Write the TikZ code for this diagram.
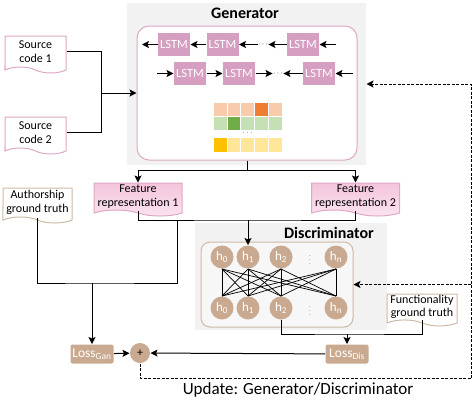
\documentclass[tikz,border=0pt]{standalone}
\usepackage{fontspec}
\setmainfont{Carlito}
\usepackage{tikz}
\usetikzlibrary{shapes}
\usetikzlibrary{arrows}
\usetikzlibrary{arrows.meta}
\definecolor{panelgray}{RGB}{242,242,242}
\definecolor{pinkline}{RGB}{222,168,198}
\definecolor{lstmpink}{RGB}{214,158,192}
\definecolor{frtop}{RGB}{244,196,220}
\definecolor{frbot}{RGB}{251,228,240}
\definecolor{tanfill}{RGB}{201,170,145}
\definecolor{tanline}{RGB}{205,186,166}
\definecolor{orlight}{RGB}{248,203,173}
\definecolor{ordark}{RGB}{237,125,49}
\definecolor{grlight}{RGB}{197,224,180}
\definecolor{grdark}{RGB}{112,173,71}
\definecolor{yelight}{RGB}{255,230,153}
\definecolor{yedark}{RGB}{255,192,0}
\newcommand\txtsize{\fontsize{12}{13.5}\selectfont}
\tikzset{
  panel node/.style={rectangle,fill=panelgray,inner sep=0pt},
  title node/.style={font=\fontsize{16}{18}\selectfont\bfseries},
  gen box/.style={rectangle,rounded corners=12pt,draw=pinkline,fill=white,inner sep=0pt},
  disc box/.style={rectangle,rounded corners=9pt,draw=tanline,fill=panelgray!60,inner sep=0pt},
  lstm node/.style={rectangle,fill=lstmpink,text=white,font=\fontsize{12.5}{14}\selectfont,minimum width=32pt,minimum height=23pt,inner sep=1pt},
  dots node/.style={font=\footnotesize,inner sep=0pt},
  vdots node/.style={font=\tiny,inner sep=0pt},
  doc node/.style={shape=tape,tape bend top=none,tape bend bottom=out and in,tape bend height=6pt,
    draw=pinkline,fill=white,align=center,font=\txtsize,inner xsep=2pt,inner ysep=1pt},
  fr node/.style={doc node,top color=frtop,bottom color=frbot},
  gt node/.style={doc node,draw=tanline},
  h node/.style={circle,fill=tanfill,text=white,font=\fontsize{13}{14}\selectfont,minimum size=23pt,inner sep=0pt},
  loss node/.style={rectangle,rounded corners=2pt,fill=tanfill,text=white,font=\fontsize{13.5}{15}\selectfont,minimum width=43pt,minimum height=19pt,inner sep=1pt},
  plus node/.style={circle,fill=tanfill,font=\txtsize,minimum size=20pt,inner sep=0pt},
  cell/.style={draw=white,line width=0.5pt},
  upd dash/.style={dash pattern=on 3pt off 1.5pt}
}
\begin{document}
\begin{tikzpicture}[>={Stealth[length=7pt,width=7pt,inset=1.5pt]}, x=1pt, y=-1pt, line width=1pt]
  \useasboundingbox (0,0) rectangle (474,402);
  % generator
  \node[panel node,minimum width=239pt,minimum height=162pt] (genbg) at (246.5,84) {};
  \node[title node] (gtitle) at (245,13) {Generator};
  \node[gen box,minimum width=220pt,minimum height=134pt] (gen) at (247,93) {};
  \node[lstm node] (l1) at (174,44.5) {LSTM};
  \node[lstm node] (l2) at (222.5,44.5) {LSTM};
  \node[dots node] (e1) at (263,44.5) {$\cdots$};
  \node[lstm node] (l3) at (303,44.5) {LSTM};
  \coordinate (o1) at (142,44.5);
  \coordinate (i1) at (336,44.5);
  \draw[->] (l1) -- (o1);
  \draw[->] (l2) -- (l1);
  \draw[->] (e1) -- (l2);
  \draw[->] (l3) -- (e1);
  \draw[->] (i1) -- (l3);
  \node[lstm node] (r1) at (190,73.5) {LSTM};
  \node[lstm node] (r2) at (239,73.5) {LSTM};
  \node[dots node] (e2) at (278,73.5) {$\cdots$};
  \node[lstm node] (r3) at (319,73.5) {LSTM};
  \coordinate (o2) at (157,73.5);
  \coordinate (i2) at (353,73.5);
  \draw[->] (o2) -- (r1);
  \draw[->] (r1) -- (r2);
  \draw[->] (r2) -- (e2);
  \draw[->] (r3) -- (e2);
  \draw[->] (i2) -- (r3);
  % feature map
  \foreach \i in {0,...,4} {
    \filldraw[cell,fill=orlight] (213+13.8*\i,102) rectangle ++(13.8,14);
    \filldraw[cell,fill=grlight] (213+13.8*\i,116) rectangle ++(13.8,14);
    \filldraw[cell,fill=yelight] (213+13.8*\i,137) rectangle ++(13.8,15);
  }
  \filldraw[cell,fill=ordark] (213+13.8*3,102) rectangle ++(13.8,14);
  \filldraw[cell,fill=grdark] (213+13.8*1,116) rectangle ++(13.8,14);
  \filldraw[cell,fill=yedark] (213,137) rectangle ++(13.8,15);
  \node[dots node,font=\scriptsize] (hd) at (247.5,133) {$\cdots$};
  % inputs
  \node[doc node,minimum width=61pt,minimum height=37pt] (src1) at (35.5,51.5) {Source\\code 1};
  \node[doc node,minimum width=61pt,minimum height=37pt] (src2) at (35.5,132.5) {Source\\code 2};
  \coordinate (j1) at (101,93);
  \draw (src1.east) -| (j1);
  \draw (src2.east) -| (j1);
  \draw[->] (j1) -- (gen.west);
  % features
  \node[fr node,minimum width=88pt,minimum height=33pt] (fr1) at (138,196.5) {Feature\\representation 1};
  \node[fr node,minimum width=88pt,minimum height=33pt] (fr2) at (355.5,196.5) {Feature\\representation 2};
  \coordinate (g1) at (247,170);
  \draw (gen.south) -- (g1);
  \draw[->] (g1) -| (fr1.north);
  \draw[->] (g1) -| (fr2.north);
  \node[gt node,minimum width=69pt,minimum height=35pt] (auth) at (37.5,202.5) {Authorship\\ground truth};
  % discriminator
  \node[panel node,minimum width=192pt,minimum height=107pt] (discbg) at (291,276.5) {};
  \node[title node] (dtitle) at (329,233) {Discriminator};
  \node[disc box,minimum width=152pt,minimum height=85pt] (disc) at (277,284.5) {};
  \foreach \n/\x in {0/222,1/248,2/281,n/336} {
    \node[h node] (t\n) at (\x,257) {h\textsubscript{\n}};
    \node[h node] (b\n) at (\x,308) {h\textsubscript{\n}};
  }
  \node[vdots node] (tv) at (310,257) {$\vdots$};
  \node[vdots node] (bv) at (310,308) {$\vdots$};
  \foreach \i in {0,1,2,n}
    \foreach \j in {0,1,2,n}
      \draw[line width=0.7pt] (t\i.south) -- (b\j.north);
  \node[gt node,minimum width=70pt,minimum height=30pt] (func) at (422,307) {Functionality\\ground truth};
  % losses
  \node[loss node] (lgan) at (92,354) {Loss\textsubscript{Gan}};
  \node[loss node] (ldis) at (347,354) {Loss\textsubscript{Dis}};
  \node[plus node] (plus) at (140,353) {+};
  \coordinate (m) at (248,220);
  \draw (fr1.south) |- (m) -| (fr2.south);
  \draw[->] (m) -- (t1.north);
  \coordinate (a1) at (177,220);
  \coordinate (a2) at (92,283);
  \draw (auth.south) |- (a2) -| (a1);
  \draw[->] (a2) -- (lgan.north);
  \coordinate (d1) at (347,334);
  \draw (b2.south) |- (d1) -| (func.south);
  \draw[->] (d1) -- (ldis.north);
  \draw[->] (lgan) -- (plus);
  \draw[->] (ldis) -- (plus);
  % update loop
  \coordinate (c1) at (471,378);
  \draw[upd dash] (plus.south) |- (c1);
  \draw[upd dash,->] (c1) |- (genbg.east);
  \draw[upd dash,->] (c1 |- disc.east) -- (disc.east);
  \node[font=\fontsize{17}{19}\selectfont] (upd) at (298,390) {Update: Generator/Discriminator};
\end{tikzpicture}
\end{document}
